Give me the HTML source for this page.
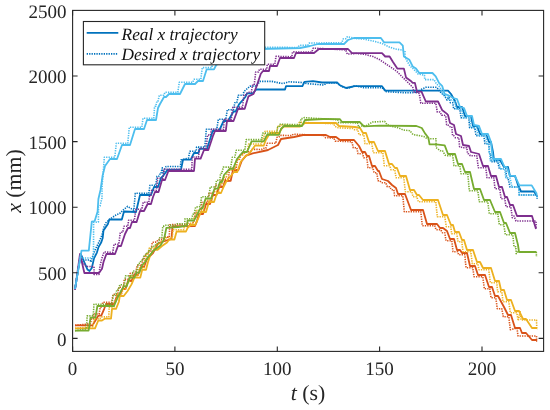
<!DOCTYPE html>
<html><head><meta charset="utf-8"><title>x trajectory</title>
<style>html,body{margin:0;padding:0;background:#fff}svg{display:block}text{text-rendering:geometricPrecision}</style></head>
<body>
<svg width="550" height="410" viewBox="0 0 550 410">
<rect width="550" height="410" fill="#fff"/>
<clipPath id="c"><rect x="72.6" y="10.4" width="471.0" height="341.0"/></clipPath>
<g clip-path="url(#c)" fill="none" stroke-linejoin="round">
<path d="M75.0,289.0 L80.8,254.0 L85.2,264.3 L87.4,269.4 L89.6,271.0 L91.8,268.0 L94.0,258.4 L96.9,252.6 L98.4,247.4 L101.3,242.3 L102.7,238.0 L103.5,230.5 L107.9,224.0 L109.3,219.5 L121.8,219.5 L124.0,211.5 L136.0,212.0 L140.0,195.0 L151.0,195.0 L154.0,187.0 L158.0,187.0 L161.0,178.0 L163.0,176.0 L167.7,169.6 L181.0,169.6 L183.0,159.7 L190.7,159.7 L194.0,153.0 L198.4,153.0 L199.5,148.8 L207.0,148.8 L212.7,131.0 L219.0,131.0 L223.6,121.0 L228.0,121.0 L233.5,111.5 L235.7,111.5 L239.0,104.4 L245.4,97.0 L247.0,93.4 L252.7,93.4 L256.4,89.5 L285.0,89.5 L286.0,86.2 L302.4,86.2 L304.5,81.8 L313.0,81.2 L322.0,82.5 L337.3,82.5 L339.5,85.0 L346.0,88.0 L354.7,86.2 L382.0,86.2 L385.2,90.6 L448.0,90.6 L451.0,94.0 L455.0,101.0 L457.0,107.0 L462.0,107.0 L465.0,116.0 L471.0,116.0 L473.0,126.0 L477.0,126.0 L480.0,134.0 L486.0,134.0 L489.0,142.0 L491.0,142.0 L493.0,152.0 L494.0,160.0 L500.0,160.0 L504.0,167.0 L508.0,167.0 L510.0,176.0 L515.0,176.0 L518.0,185.0 L521.0,191.5 L534.0,191.5 L537.0,196.0" stroke="#0072BD" stroke-width="1.8"/>
<path d="M75.0,289.0 L80.5,255.0 L81.0,260.0 L90.0,260.0 L91.0,262.0 L93.0,255.0 L96.0,248.0 L99.0,242.0 L102.0,235.0 L104.0,227.0 L105.7,223.0 L110.0,219.0 L116.0,215.0 L120.3,213.0 L123.2,210.0 L127.6,206.4 L133.8,210.3 L133.8,210.3 L135.3,193.3 L148.8,193.3 L148.8,193.3 L150.0,185.3 L155.8,185.3 L155.8,185.3 L157.0,176.3 L158.8,176.3 L159.6,174.3 L160.8,174.3 L162.3,167.9 L163.0,173.0 L166.0,166.5 L180.5,166.5 L181.0,160.0 L188.5,158.0 L188.5,158.0 L189.8,151.3 L196.2,151.3 L196.2,151.3 L196.6,147.1 L204.8,147.1 L204.8,147.1 L206.3,129.3 L216.8,129.3 L216.8,129.3 L218.3,119.3 L225.8,119.3 L225.8,119.3 L227.3,109.8 L233.5,109.8 L233.5,109.8 L234.8,102.7 L236.8,102.7 L238.3,95.3 L243.2,95.3 L243.8,91.7 L250.0,86.2 L256.5,86.0 L259.8,81.4 L271.8,81.4 L282.7,83.6 L289.3,81.8 L302.4,82.5 L306.7,83.6 L324.2,85.0 L326.4,83.0 L337.3,83.0 L341.6,86.6 L348.2,88.4 L354.7,85.7 L364.0,87.7 L382.0,87.7 L386.3,91.7 L403.9,92.7 L411.6,92.7 L418.0,92.0 L422.0,89.0 L425.8,87.3 L436.8,87.3 L440.0,91.7 L444.5,96.0 L447.0,100.0 L448.8,95.7 L450.3,102.7 L452.8,102.7 L453.6,108.7 L459.8,108.7 L459.8,108.7 L461.0,117.7 L468.8,117.7 L468.8,117.7 L469.6,127.7 L474.8,127.7 L474.8,127.7 L476.0,135.7 L483.8,135.7 L483.8,135.7 L485.0,143.7 L488.8,143.7 L488.8,143.7 L489.6,153.7 L490.8,153.7 L491.2,161.7 L497.8,161.7 L497.8,161.7 L499.3,168.7 L505.8,168.7 L505.8,168.7 L506.6,177.7 L508.0,178.0 L510.0,187.0 L519.0,187.0 L519.2,195.0 L537.0,195.0 L537.1,199.0" stroke="#0072BD" stroke-width="1.6" stroke-dasharray="1.3 1.13"/>
<path d="M75.0,325.4 L92.5,325.4 L95.4,320.5 L98.3,315.7 L101.3,315.7 L104.2,308.8 L106.0,304.0 L114.0,304.0 L116.9,296.0 L120.0,296.0 L122.5,289.0 L125.5,289.0 L128.0,281.0 L131.5,281.0 L134.0,275.0 L138.0,275.0 L141.0,267.0 L144.0,267.0 L146.5,260.0 L150.0,256.0 L153.0,253.0 L157.6,244.0 L160.0,242.5 L165.0,241.0 L171.5,238.8 L172.5,226.4 L195.0,226.0 L196.4,222.7 L199.0,214.0 L203.0,214.0 L206.0,204.0 L210.0,204.0 L213.0,195.0 L216.5,195.0 L219.0,187.0 L223.0,187.0 L225.0,181.0 L230.7,180.8 L233.0,170.0 L238.4,170.0 L241.7,161.0 L246.0,155.6 L252.7,153.4 L263.7,151.0 L268.0,150.0 L278.0,145.0 L281.0,139.0 L294.0,137.0 L303.0,135.0 L326.0,135.0 L330.0,137.0 L336.0,137.0 L340.0,140.0 L354.0,140.0 L359.0,146.0 L362.0,152.0 L365.0,152.0 L367.0,156.0 L369.0,156.0 L372.0,166.0 L375.0,166.0 L378.0,171.0 L379.0,171.0 L382.0,179.0 L388.0,181.0 L392.0,185.0 L396.0,188.0 L398.0,194.0 L405.0,194.0 L411.0,210.0 L423.0,210.0 L427.0,224.0 L437.0,224.0 L440.0,228.0 L443.0,228.0 L447.0,231.0 L450.0,239.0 L454.0,239.0 L457.0,250.0 L460.0,250.0 L462.0,253.0 L467.0,253.0 L470.0,266.0 L475.0,266.0 L478.0,275.0 L485.0,275.0 L489.0,287.0 L492.0,287.0 L495.0,296.0 L498.0,296.0 L504.0,307.0 L508.0,315.0 L511.0,315.0 L515.0,328.0 L520.0,328.0 L522.0,333.0 L526.0,333.0 L532.0,340.0 L537.0,340.0" stroke="#D95319" stroke-width="1.8"/>
<path d="M75.0,325.4 L90.3,323.7 L90.3,323.7 L91.5,318.8 L93.2,318.8 L94.4,314.0 L99.1,314.0 L99.1,314.0 L100.3,307.1 L102.0,307.1 L102.7,302.3 L111.8,302.3 L111.8,302.3 L113.0,294.3 L117.8,294.3 L117.8,294.3 L118.8,287.3 L123.3,287.3 L123.3,287.3 L124.3,279.3 L129.3,279.3 L129.3,279.3 L130.3,273.3 L135.8,273.3 L135.8,273.3 L137.0,265.3 L141.8,265.3 L141.8,265.3 L142.8,258.3 L144.3,258.3 L145.7,254.3 L147.8,254.3 L149.0,251.3 L150.8,251.3 L152.3,242.3 L155.4,242.3 L156.4,240.8 L157.8,240.8 L159.3,239.3 L162.8,239.3 L164.3,237.1 L169.3,237.1 L169.7,224.7 L192.8,224.3 L192.8,224.3 L193.4,221.0 L194.2,221.0 L195.2,212.3 L200.8,212.3 L200.8,212.3 L202.0,202.3 L207.8,202.3 L207.8,202.3 L209.0,193.3 L214.3,193.3 L214.3,193.3 L215.3,185.3 L220.8,185.3 L220.8,185.3 L221.6,179.3 L228.5,179.1 L228.5,179.1 L229.4,168.3 L236.2,168.3 L236.2,168.3 L237.5,159.3 L239.5,159.3 L241.0,153.9 L243.8,153.9 L245.3,151.7 L250.5,151.7 L252.0,149.3 L261.5,149.5 L263.0,148.4 L265.8,148.3 L267.3,143.3 L275.8,143.3 L277.0,137.3 L278.8,137.3 L280.3,135.3 L291.8,135.6 L293.3,134.2 L323.8,135.4 L323.8,135.4 L325.3,137.6 L333.8,138.1 L333.8,138.1 L335.3,141.1 L351.8,141.7 L351.8,141.7 L353.3,147.7 L356.8,147.7 L358.0,153.7 L362.8,153.7 L362.8,153.7 L363.6,157.7 L366.8,157.7 L366.8,157.7 L368.0,167.7 L372.8,167.7 L372.8,167.7 L374.0,172.7 L376.8,172.7 L376.8,172.7 L378.0,180.7 L379.8,180.7 L381.3,182.7 L385.8,182.7 L387.3,186.7 L389.8,186.7 L391.3,189.7 L393.8,189.7 L394.6,195.7 L402.8,195.7 L402.8,195.7 L404.3,211.7 L420.8,211.7 L420.8,211.7 L422.3,225.7 L434.8,225.7 L434.8,225.7 L436.0,229.7 L440.8,229.7 L440.8,229.7 L442.3,232.7 L444.8,232.7 L446.0,240.7 L451.8,240.7 L451.8,240.7 L453.0,251.7 L457.8,251.7 L457.8,251.7 L458.6,254.7 L464.8,254.7 L464.8,254.7 L466.0,267.7 L472.8,267.7 L472.8,267.7 L474.0,276.7 L482.8,276.7 L482.8,276.7 L484.3,288.7 L489.8,288.7 L489.8,288.7 L491.0,297.7 L495.8,297.7 L495.8,297.7 L497.3,308.7 L501.8,308.7 L503.3,316.7 L508.8,316.7 L508.8,316.7 L510.3,329.7 L517.0,328.0 L518.0,336.0 L536.5,336.0 L536.7,341.0 L537.0,341.5" stroke="#D95319" stroke-width="1.6" stroke-dasharray="1.3 1.13"/>
<path d="M75.0,328.3 L95.0,328.3 L98.3,320.5 L102.0,320.5 L105.0,318.6 L111.0,318.6 L112.0,308.8 L116.0,308.8 L118.8,302.0 L119.8,296.0 L123.7,296.0 L127.6,291.0 L131.5,284.4 L134.4,277.6 L140.3,277.6 L142.2,269.8 L146.0,269.8 L148.0,262.0 L150.0,256.0 L154.0,249.8 L157.6,249.8 L162.0,246.0 L167.0,242.5 L169.3,239.5 L174.4,239.5 L176.6,231.5 L186.0,231.5 L187.6,227.8 L190.5,225.0 L195.0,225.0 L198.0,219.0 L201.0,212.0 L206.0,212.0 L209.0,202.0 L214.0,202.0 L217.0,193.0 L221.0,193.0 L224.0,186.0 L226.0,182.0 L228.5,178.7 L234.0,172.0 L237.3,172.0 L240.6,162.0 L245.0,156.7 L249.4,153.4 L254.9,145.7 L263.7,145.7 L265.8,140.0 L270.0,133.0 L279.0,133.0 L282.0,128.0 L284.0,126.5 L300.0,126.5 L305.0,123.0 L336.0,123.0 L339.0,126.0 L355.0,127.0 L360.0,128.0 L363.0,133.0 L366.0,133.0 L369.0,142.0 L374.0,142.0 L378.0,151.0 L385.0,151.0 L389.0,164.0 L392.0,164.0 L395.0,168.0 L397.0,168.0 L400.0,176.0 L406.0,176.0 L410.0,190.0 L414.0,190.0 L417.0,195.0 L419.0,195.0 L423.0,200.0 L438.0,200.0 L443.0,215.0 L447.0,215.0 L451.0,225.0 L453.0,225.0 L455.0,232.0 L459.0,232.0 L462.0,240.0 L464.0,240.0 L467.0,250.0 L473.0,250.0 L477.0,262.0 L480.0,262.0 L483.0,268.0 L491.0,268.0 L495.0,281.0 L499.0,281.0 L501.0,290.0 L504.0,290.0 L507.0,300.0 L511.0,300.0 L515.0,311.0 L519.0,311.0 L523.0,319.0 L526.0,319.0 L532.0,328.0 L537.0,328.0" stroke="#EDB120" stroke-width="1.8"/>
<path d="M75.0,328.3 L92.8,326.6 L92.8,326.6 L94.1,318.8 L99.8,318.8 L99.8,318.8 L101.0,316.9 L108.8,316.9 L108.8,316.9 L109.2,307.1 L113.8,307.1 L113.8,307.1 L114.9,300.3 L116.6,300.3 L117.0,294.3 L121.5,294.3 L121.5,294.3 L123.0,289.3 L125.4,289.3 L126.9,282.7 L129.3,282.7 L130.5,275.9 L138.1,275.9 L138.1,275.9 L138.9,268.1 L143.8,268.1 L143.8,268.1 L144.6,260.3 L145.8,260.3 L146.6,254.3 L147.8,254.3 L149.3,248.1 L155.4,248.1 L155.4,248.1 L156.9,244.3 L159.8,244.3 L161.3,240.8 L164.8,240.8 L165.7,237.8 L172.2,237.8 L172.2,237.8 L173.1,229.8 L183.8,229.8 L183.8,229.8 L184.4,226.1 L185.4,226.1 L186.6,223.3 L192.8,223.3 L192.8,223.3 L194.0,217.3 L195.8,217.3 L197.0,210.3 L203.8,210.3 L203.8,210.3 L205.0,200.3 L211.8,200.3 L211.8,200.3 L213.0,191.3 L218.8,191.3 L218.8,191.3 L220.0,184.3 L221.8,184.3 L222.6,180.3 L223.8,180.3 L224.8,177.0 L226.3,177.0 L227.8,170.3 L235.1,170.3 L235.1,170.3 L236.4,160.3 L238.4,160.3 L239.9,155.0 L242.8,155.0 L244.3,151.7 L247.2,151.7 L248.7,144.0 L261.5,144.0 L261.5,144.0 L262.3,138.3 L263.6,138.3 L265.1,131.3 L276.8,131.3 L276.8,131.3 L278.0,126.3 L279.8,126.3 L280.6,124.8 L297.8,125.8 L297.8,125.8 L299.3,122.3 L333.8,123.7 L333.8,123.7 L335.0,126.7 L336.8,126.8 L338.3,127.8 L352.8,128.5 L354.3,129.6 L357.8,129.7 L359.0,134.7 L363.8,134.7 L363.8,134.7 L365.0,143.7 L371.8,143.7 L371.8,143.7 L373.3,152.7 L382.8,152.7 L382.8,152.7 L384.3,165.7 L389.8,165.7 L389.8,165.7 L391.0,169.7 L394.8,169.7 L394.8,169.7 L396.0,177.7 L403.8,177.7 L403.8,177.7 L405.3,191.7 L411.8,191.7 L411.8,191.7 L413.0,196.7 L416.8,196.7 L416.8,196.7 L418.3,201.7 L435.8,201.7 L435.8,201.7 L437.3,216.7 L444.8,216.7 L444.8,216.7 L446.3,226.7 L450.8,226.7 L450.8,226.7 L451.6,233.7 L456.8,233.7 L456.8,233.7 L458.0,241.7 L461.8,241.7 L461.8,241.7 L463.0,251.7 L470.8,251.7 L470.8,251.7 L472.3,263.7 L477.8,263.7 L477.8,263.7 L479.0,269.7 L488.8,269.7 L488.8,269.7 L490.3,282.7 L496.8,282.7 L496.8,282.7 L497.6,291.7 L501.8,291.7 L501.8,291.7 L503.0,301.7 L508.8,301.7 L508.8,301.7 L510.3,312.7 L516.8,312.7 L516.8,312.7 L518.3,320.7 L520.0,311.0 L521.0,320.0 L536.5,320.0 L536.7,325.5 L537.0,329.7" stroke="#EDB120" stroke-width="1.6" stroke-dasharray="1.3 1.13"/>
<path d="M75.0,290.0 L80.0,254.0 L84.4,273.0 L99.0,273.0 L102.0,268.7 L103.5,262.0 L106.4,254.0 L115.0,254.0 L118.0,246.0 L121.0,246.0 L125.0,234.0 L128.0,228.0 L130.0,228.0 L132.0,222.0 L136.6,222.0 L140.0,211.0 L144.0,211.0 L147.6,204.0 L151.0,204.0 L153.0,197.0 L155.0,192.0 L158.5,192.0 L162.0,180.0 L165.0,180.0 L168.4,171.0 L194.0,171.0 L195.0,158.7 L200.6,158.7 L204.0,150.0 L208.3,150.0 L212.7,136.7 L215.0,131.0 L225.8,131.0 L227.0,121.0 L233.5,121.0 L238.0,109.0 L244.7,108.8 L248.4,96.4 L253.5,94.0 L256.4,86.9 L260.8,73.7 L263.0,71.0 L269.0,71.0 L270.0,66.0 L277.0,66.0 L280.0,58.0 L294.0,58.0 L296.0,53.0 L314.0,53.0 L319.0,49.0 L348.0,49.0 L352.0,53.2 L382.0,53.2 L385.2,56.5 L389.6,56.5 L393.0,62.0 L397.3,68.6 L403.9,68.6 L406.0,77.4 L410.5,80.7 L412.7,82.9 L414.9,82.9 L417.0,91.7 L421.5,91.7 L425.8,101.5 L438.0,101.5 L442.3,110.3 L446.7,113.6 L448.0,115.0 L450.0,123.0 L454.0,125.0 L456.0,134.0 L461.0,136.0 L463.0,145.0 L469.0,146.0 L471.0,152.0 L479.0,154.0 L483.0,166.0 L488.0,166.0 L491.0,176.0 L496.0,176.0 L499.0,187.0 L502.0,187.0 L505.0,197.0 L507.0,197.0 L510.0,205.0 L513.0,205.0 L517.0,216.0 L532.0,216.0 L536.0,229.0" stroke="#7E2F8E" stroke-width="1.8"/>
<path d="M75.0,289.0 L80.5,255.0 L81.0,260.0 L86.0,266.5 L94.0,266.5 L94.1,274.5 L99.0,274.5 L100.0,266.0 L102.0,258.0 L104.0,252.0 L112.8,252.3 L112.8,252.3 L114.0,244.3 L118.8,244.3 L118.8,244.3 L120.3,232.3 L122.8,232.3 L124.0,226.3 L127.8,226.3 L127.8,226.3 L128.6,220.3 L134.4,220.3 L134.4,220.3 L135.8,209.3 L141.8,209.3 L141.8,209.3 L143.2,202.3 L148.8,202.3 L148.8,202.3 L149.6,195.3 L150.8,195.3 L151.6,190.3 L156.3,190.3 L156.3,190.3 L157.7,178.3 L162.8,178.3 L162.8,178.3 L164.2,169.3 L191.8,169.3 L191.8,169.3 L192.2,157.0 L198.4,157.0 L198.4,157.0 L199.8,148.3 L206.1,148.3 L206.1,148.3 L207.6,135.0 L210.5,135.0 L211.4,129.3 L223.6,129.3 L223.6,129.3 L224.1,119.3 L231.3,119.3 L231.3,119.3 L232.8,107.3 L242.5,107.1 L242.5,107.1 L244.0,94.7 L246.2,94.7 L247.7,92.3 L251.3,92.3 L252.5,85.2 L254.2,85.2 L255.7,72.0 L258.6,72.0 L259.5,69.3 L266.8,69.3 L266.8,69.3 L267.2,64.3 L274.8,64.3 L274.8,64.3 L276.0,56.3 L291.8,56.8 L291.8,56.8 L292.6,51.9 L311.8,52.1 L311.8,52.1 L313.3,48.1 L345.8,49.9 L345.8,49.9 L347.3,54.1 L356.0,53.5 L364.4,54.3 L373.0,56.5 L379.8,59.8 L386.3,64.2 L393.0,68.6 L397.3,71.9 L400.6,75.2 L405.0,79.6 L409.0,83.5 L412.7,87.3 L414.0,92.0 L419.3,93.4 L419.3,93.4 L420.8,103.2 L435.8,103.2 L435.8,103.2 L437.3,112.0 L440.1,112.0 L441.6,115.3 L444.5,115.3 L445.0,116.7 L445.8,116.7 L446.6,124.7 L447.8,124.7 L449.3,126.7 L451.8,126.7 L452.6,135.7 L453.8,135.7 L455.3,137.7 L458.8,137.7 L459.6,146.7 L460.8,146.7 L462.3,147.7 L466.8,147.7 L467.6,153.7 L468.8,153.7 L470.3,155.7 L476.8,155.7 L478.3,167.7 L485.8,167.7 L485.8,167.7 L487.0,177.7 L493.8,177.7 L493.8,177.7 L495.0,188.7 L499.8,188.7 L499.8,188.7 L501.0,198.7 L504.8,198.7 L504.8,198.7 L506.0,206.7 L510.8,206.7 L510.8,206.7 L512.3,217.7 L514.0,216.0 L516.0,221.0 L536.0,221.0 L536.2,229.0" stroke="#7E2F8E" stroke-width="1.6" stroke-dasharray="1.3 1.13"/>
<path d="M75.0,330.7 L88.6,330.7 L90.5,317.6 L95.4,317.6 L97.4,306.0 L114.0,306.0 L117.9,297.0 L120.8,291.3 L123.7,286.4 L126.6,286.4 L129.6,277.6 L134.4,277.6 L136.4,272.7 L139.3,272.7 L142.2,265.0 L145.0,262.0 L148.0,257.0 L151.0,254.0 L153.0,251.0 L157.0,248.0 L160.5,245.4 L164.0,239.5 L166.4,227.8 L178.0,227.0 L186.9,225.6 L187.6,220.5 L194.0,220.5 L196.4,216.0 L200.0,208.8 L202.4,208.4 L205.7,198.5 L211.0,198.5 L214.5,188.7 L217.8,188.7 L220.0,182.0 L222.0,182.0 L224.0,175.0 L229.6,168.8 L233.0,168.8 L237.0,159.0 L242.8,152.0 L247.0,152.0 L251.6,141.3 L263.7,141.3 L267.0,134.8 L279.0,134.8 L281.0,129.0 L284.0,126.0 L302.0,126.0 L305.0,120.0 L323.0,119.0 L340.0,119.2 L342.0,122.0 L359.6,122.0 L364.0,126.4 L379.3,125.7 L416.4,126.0 L421.8,128.0 L425.0,133.4 L428.4,137.7 L429.5,144.3 L436.0,144.3 L444.7,145.4 L448.0,154.0 L449.0,154.0 L455.0,154.0 L458.0,164.0 L462.0,164.0 L465.0,172.0 L470.0,172.0 L474.0,189.0 L480.0,189.0 L484.0,200.0 L490.0,200.0 L495.0,212.0 L500.0,212.0 L504.0,223.0 L506.0,223.0 L510.0,233.0 L515.0,233.0 L518.0,245.0 L519.0,252.0 L536.0,252.0" stroke="#77AC30" stroke-width="1.8"/>
<path d="M75.0,330.7 L86.4,329.0 L86.4,329.0 L87.2,315.9 L93.2,315.9 L93.2,315.9 L94.0,304.3 L111.8,304.3 L111.8,304.3 L113.3,295.3 L115.7,295.3 L116.9,289.6 L118.6,289.6 L119.8,284.7 L124.4,284.7 L124.4,284.7 L125.6,275.9 L132.2,275.9 L132.2,275.9 L133.0,271.0 L137.1,271.0 L137.1,271.0 L138.3,263.3 L140.0,263.3 L141.1,260.3 L142.8,260.3 L144.0,255.3 L145.8,255.3 L147.0,252.3 L148.8,252.3 L149.6,249.3 L150.8,249.3 L152.3,246.3 L154.8,246.3 L156.2,243.7 L158.3,243.7 L159.7,237.8 L161.8,237.8 L162.8,226.1 L164.2,226.1 L165.7,225.3 L175.8,225.3 L177.3,223.9 L184.7,223.9 L185.0,218.8 L191.8,218.8 L191.8,218.8 L192.8,214.3 L194.2,214.3 L195.6,207.1 L200.2,206.7 L200.2,206.7 L201.5,196.8 L208.8,196.8 L208.8,196.8 L210.2,187.0 L215.6,187.0 L215.6,187.0 L216.5,180.3 L219.8,180.3 L219.8,180.3 L220.6,173.3 L221.8,173.3 L223.3,167.1 L230.8,167.1 L230.8,167.1 L232.3,157.3 L234.8,157.3 L236.3,150.3 L244.8,150.3 L244.8,150.3 L246.3,139.6 L261.5,139.6 L261.5,139.6 L262.8,133.1 L276.8,133.1 L276.8,133.1 L277.6,127.3 L278.8,127.3 L280.0,124.3 L299.8,124.6 L299.8,124.6 L301.0,118.6 L302.8,118.6 L304.3,117.6 L337.8,119.8 L337.8,119.8 L338.6,122.6 L357.4,122.9 L357.4,122.9 L358.9,127.3 L362.0,126.0 L366.0,125.7 L372.7,122.0 L384.7,121.4 L387.0,124.6 L392.4,126.4 L399.0,128.0 L403.3,130.0 L409.8,130.7 L413.0,134.5 L418.6,135.5 L424.0,136.6 L427.3,138.8 L436.0,138.8 L436.1,147.5 L440.4,150.8 L442.6,150.8 L445.0,155.0 L446.8,155.7 L452.8,155.7 L452.8,155.7 L454.0,165.7 L459.8,165.7 L459.8,165.7 L461.0,173.7 L467.8,173.7 L467.8,173.7 L469.3,190.7 L477.8,190.7 L477.8,190.7 L479.3,201.7 L487.8,201.7 L487.8,201.7 L489.3,213.7 L497.8,213.7 L497.8,213.7 L499.3,224.7 L503.8,224.7 L503.8,224.7 L505.3,234.7 L512.8,234.7 L512.8,234.7 L514.0,246.7 L515.8,246.7 L516.2,253.7 L517.0,252.0 L536.3,252.0 L536.5,257.0" stroke="#77AC30" stroke-width="1.6" stroke-dasharray="1.3 1.13"/>
<path d="M75.0,289.0 L81.5,250.6 L88.8,250.6 L91.8,221.7 L94.7,221.0 L97.6,211.5 L98.4,199.0 L100.5,190.0 L102.0,180.0 L102.5,176.0 L105.0,166.0 L110.0,159.0 L117.0,159.0 L122.0,145.0 L130.0,145.0 L135.0,129.0 L144.0,129.0 L147.0,120.0 L156.0,120.0 L158.0,108.0 L160.0,104.0 L164.0,97.0 L166.0,97.0 L169.0,94.0 L180.0,94.0 L185.0,84.0 L195.0,84.0 L198.0,81.0 L203.0,81.0 L206.7,69.3 L214.0,69.3 L216.2,65.0 L225.0,60.0 L240.0,55.0 L261.0,49.0 L300.0,48.0 L310.0,46.0 L318.0,44.0 L344.0,44.0 L348.0,40.0 L354.0,38.0 L380.9,37.9 L384.0,42.3 L399.5,42.3 L402.8,45.6 L403.9,56.5 L409.4,59.8 L412.7,66.4 L416.0,68.6 L419.3,73.0 L432.4,73.0 L435.7,76.3 L439.0,82.9 L442.3,86.2 L444.5,93.8 L450.0,96.0 L453.0,98.0 L457.0,99.0 L460.0,107.0 L464.0,108.0 L467.0,116.0 L472.0,116.0 L474.0,125.0 L479.0,126.0 L482.0,134.0 L488.0,134.0 L491.0,142.0 L492.0,152.0 L493.0,159.0 L501.0,159.0 L504.6,167.0 L506.8,167.0 L509.8,175.9 L514.9,175.9 L519.3,185.4 L531.7,185.4 L536.9,194.0 L537.0,194.0" stroke="#4DBEEE" stroke-width="1.8"/>
<path d="M75.0,289.0 L80.5,255.0 L81.0,258.0 L93.5,258.0 L93.6,222.5 L98.4,222.0 L98.5,207.0 L100.0,206.0 L102.0,198.0 L102.1,185.0 L103.0,176.0 L104.3,157.3 L114.8,157.3 L114.8,157.3 L116.3,143.3 L127.8,143.3 L127.8,143.3 L129.3,127.3 L141.8,127.3 L141.8,127.3 L143.0,118.3 L153.8,118.3 L153.8,118.3 L154.6,106.3 L155.8,106.3 L156.6,102.3 L157.8,102.3 L159.3,95.3 L163.8,95.3 L163.8,95.3 L165.0,92.3 L177.8,92.3 L177.8,92.3 L179.3,82.3 L192.8,82.3 L192.8,82.3 L194.0,79.3 L200.8,79.3 L200.8,79.3 L202.3,67.6 L211.8,67.6 L211.8,67.6 L212.7,63.3 L214.0,63.3 L215.5,58.3 L222.8,58.3 L224.3,53.3 L237.8,53.4 L239.3,47.4 L258.8,48.1 L260.3,47.2 L297.8,47.5 L299.3,45.4 L307.8,45.1 L309.3,43.1 L341.8,42.7 L341.8,42.7 L343.3,38.7 L345.8,38.7 L347.3,36.7 L355.0,38.5 L363.0,39.0 L373.0,41.0 L382.0,43.4 L388.5,46.7 L395.0,48.9 L401.7,50.0 L405.0,51.0 L405.1,56.5 L407.0,61.0 L410.0,66.0 L414.0,69.5 L418.0,74.0 L424.5,75.2 L424.7,79.6 L434.0,79.6 L436.5,84.0 L440.0,87.0 L442.5,94.0 L447.0,97.0 L447.8,97.7 L449.0,99.7 L450.8,99.7 L452.3,100.7 L454.8,100.7 L456.0,108.7 L457.8,108.7 L459.3,109.7 L461.8,109.7 L463.0,117.7 L469.8,117.7 L469.8,117.7 L470.6,126.7 L471.8,126.7 L473.3,127.7 L476.8,127.7 L478.0,135.7 L485.8,135.7 L485.8,135.7 L487.0,143.7 L488.8,143.7 L489.2,153.7 L489.8,153.7 L490.2,160.7 L498.8,160.7 L498.8,160.7 L500.2,168.7 L504.6,168.7 L504.6,168.7 L505.8,177.6 L510.0,178.0 L512.0,187.0 L519.0,187.0 L519.2,195.0 L537.0,195.0 L537.1,198.0" stroke="#4DBEEE" stroke-width="1.6" stroke-dasharray="1.3 1.13"/>
</g>
<rect x="72.6" y="10.4" width="471.0" height="341.0" fill="none" stroke="#262626" stroke-width="1.1"/>
<path d="M72.6,351.4 v-5 M72.6,10.4 v5 M174.9,351.4 v-5 M174.9,10.4 v5 M277.3,351.4 v-5 M277.3,10.4 v5 M379.6,351.4 v-5 M379.6,10.4 v5 M482.0,351.4 v-5 M482.0,10.4 v5 M72.6,338.4 h5 M543.6,338.4 h-5 M72.6,272.8 h5 M543.6,272.8 h-5 M72.6,207.2 h5 M543.6,207.2 h-5 M72.6,141.6 h5 M543.6,141.6 h-5 M72.6,76.0 h5 M543.6,76.0 h-5" stroke="#262626" stroke-width="1.1" fill="none"/>
<g font-family="'Liberation Serif', serif" font-size="19" fill="#262626">
<text x="72.6" y="375.0" text-anchor="middle">0</text>
<text x="174.9" y="375.0" text-anchor="middle">50</text>
<text x="277.3" y="375.0" text-anchor="middle">100</text>
<text x="379.6" y="375.0" text-anchor="middle">150</text>
<text x="482.0" y="375.0" text-anchor="middle">200</text>
<text x="66.5" y="345.6" text-anchor="end">0</text>
<text x="66.5" y="280.0" text-anchor="end">500</text>
<text x="66.5" y="214.4" text-anchor="end">1000</text>
<text x="66.5" y="148.8" text-anchor="end">1500</text>
<text x="66.5" y="83.2" text-anchor="end">2000</text>
<text x="66.5" y="17.6" text-anchor="end">2500</text>
</g>
<g font-family="'Liberation Serif', serif" font-size="21.8" fill="#262626">
<text x="308" y="400.3" text-anchor="middle"><tspan font-style="italic">t</tspan> (s)</text>
<text transform="translate(21.0,181.0) rotate(-90)" text-anchor="middle"><tspan font-style="italic">x</tspan> (mm)</text>
</g>
<rect x="83.4" y="21.5" width="181.3" height="43.3" fill="#fff" stroke="#262626" stroke-width="1.1"/>
<path d="M86.7,32.9 H118.3" stroke="#0072BD" stroke-width="1.8"/>
<path d="M86.7,53.9 H118.3" stroke="#0072BD" stroke-width="1.6" stroke-dasharray="1.3 1.13"/>
<g font-family="'Liberation Serif', serif" font-size="17.3" font-style="italic" fill="#111">
<text x="121.6" y="39.6">Real x trajectory</text>
<text x="121.6" y="59.9">Desired x trajectory</text>
</g>
</svg>
</body></html>
